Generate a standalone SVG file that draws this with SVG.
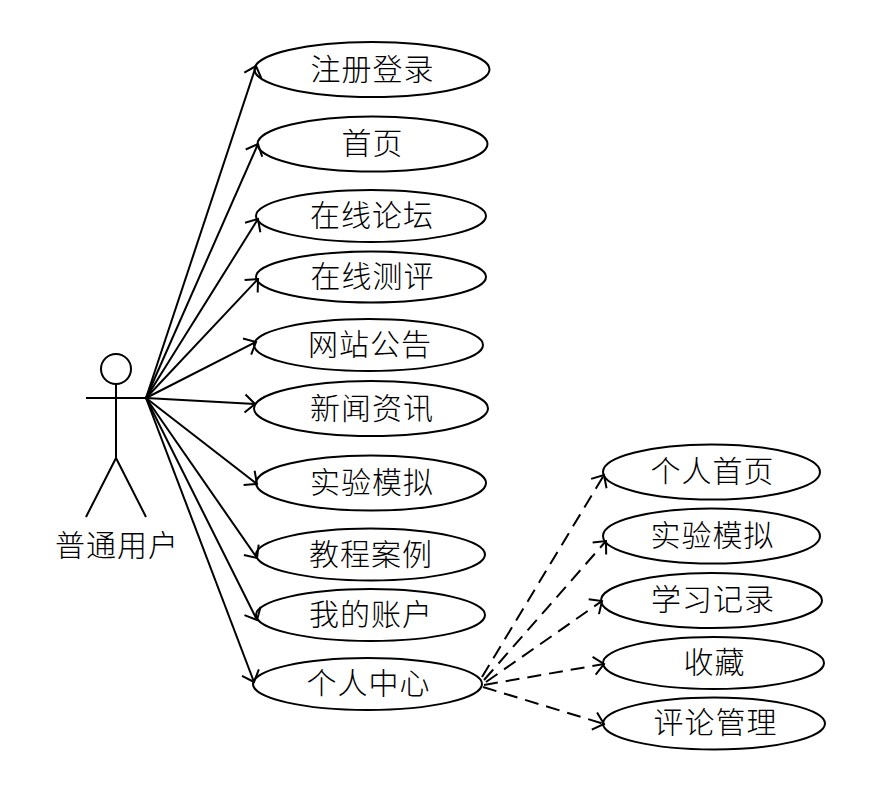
<svg xmlns="http://www.w3.org/2000/svg" width="887" height="789" viewBox="0 0 887 789">
<style>
.s{fill:none;stroke:#000;stroke-width:2}
.e{fill:#fff;stroke:#000;stroke-width:2}
.d{stroke-dasharray:14 8}
.c{marker-end:url(#a)}
text{font-family:"Noto Sans CJK SC","Noto Sans CJK JP",sans-serif;font-size:30px;font-weight:300;fill:#000;text-anchor:middle;letter-spacing:1px}
</style>
<defs><marker id="a" markerUnits="userSpaceOnUse" markerWidth="24" markerHeight="24" refX="19" refY="12" orient="auto"><path d="M9 3L19 12L9 21" fill="none" stroke="#000" stroke-width="2"/></marker></defs>
<g id="n1"><ellipse class="e" cx="372" cy="69.500" rx="117.500" ry="27.500"/><text x="372.500" y="80">注册登录</text></g>
<g id="n2"><ellipse class="e" cx="372.500" cy="144" rx="115" ry="27.500"/><text x="372.500" y="154">首页</text></g>
<g id="n3"><ellipse class="e" cx="371" cy="216" rx="115" ry="26"/><text x="372" y="226">在线论坛</text></g>
<g id="n4"><ellipse class="e" cx="371" cy="277" rx="115" ry="25.500"/><text x="372.500" y="287">在线测评</text></g>
<g id="n5"><ellipse class="e" cx="368.500" cy="345" rx="114.500" ry="26"/><text x="370" y="355">网站公告</text></g>
<g id="n6"><ellipse class="e" cx="371" cy="408.500" rx="117" ry="27.500"/><text x="372" y="419">新闻资讯</text></g>
<g id="n7"><ellipse class="e" cx="371" cy="483" rx="115" ry="27.500"/><text x="372" y="493">实验模拟</text></g>
<g id="n8"><ellipse class="e" cx="370.500" cy="554.500" rx="114.500" ry="26"/><text x="371" y="565">教程案例</text></g>
<g id="n9"><ellipse class="e" cx="370.500" cy="615" rx="114.500" ry="26"/><text x="371" y="625">我的账户</text></g>
<g id="n10"><ellipse class="e" cx="367.500" cy="684" rx="114.500" ry="26"/><text x="368.500" y="694">个人中心</text></g>
<g id="n11"><ellipse class="e" cx="711.500" cy="472" rx="108.500" ry="27.500"/><text x="712.500" y="482">个人首页</text></g>
<g id="n12"><ellipse class="e" cx="711.500" cy="536" rx="108.500" ry="27.500"/><text x="712.500" y="546">实验模拟</text></g>
<g id="n13"><ellipse class="e" cx="711.500" cy="600.500" rx="110.500" ry="27.500"/><text x="713" y="610">学习记录</text></g>
<g id="n14"><ellipse class="e" cx="713.500" cy="663" rx="110.500" ry="26"/><text x="714.500" y="673">收藏</text></g>
<g id="n15"><ellipse class="e" cx="714" cy="723.500" rx="111" ry="26"/><text x="715.500" y="733">评论管理</text></g>
<g id="actor" class="s"><circle cx="116" cy="369" r="15"/><path d="M86 398H146M116 384V458M116 458L86 517M116 458L146 517"/></g>
<text x="117" y="556">普通用户</text>
<g id="connectors">
<g class="s">
<path class="c" d="M146 398L256 66"/>
<path class="c" d="M146 398L258 144"/>
<path class="c" d="M146 398L258 219"/>
<path class="c" d="M146 398L258 279"/>
<path class="c" d="M146 398L256 342"/>
<path class="c" d="M146 398L255 404"/>
<path class="c" d="M146 398L257 484"/>
<path class="c" d="M146 398L257 558"/>
<path class="c" d="M146 398L257 620"/>
<path class="c" d="M146 398L254 682"/>
</g>
<g class="s d">
<path class="c" d="M482 677L604 475"/>
<path class="c" d="M484 680L606 541"/>
<path class="c" d="M486 682L602 601"/>
<path class="c" d="M484 685L604 664"/>
<path class="c" d="M483 687L604 724"/>
</g>
</g>
</svg>
